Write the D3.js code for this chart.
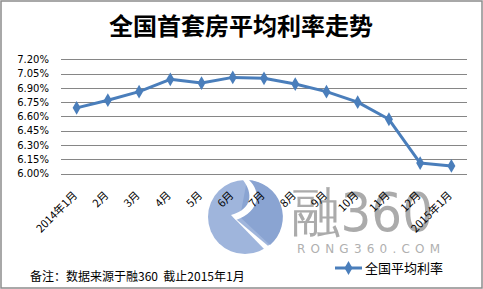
<!DOCTYPE html>
<html><head><meta charset="utf-8">
<script src="https://cdn.jsdelivr.net/npm/d3@7"></script>
<style>body{margin:0;background:#fff}svg{display:block}</style>
</head><body>
<script>
const title = "全国首套房平均利率走势";
const categories = ["2014年1月","2月","3月","4月","5月","6月","7月","8月","9月","10月","11月","12月","2015年1月"];
const rates = [6.69, 6.77, 6.86, 6.99, 6.95, 7.01, 7.00, 6.94, 6.86, 6.75, 6.57, 6.11, 6.08];
const yTicks = [6.00, 6.15, 6.30, 6.45, 6.60, 6.75, 6.90, 7.05, 7.20];
const seriesName = "全国平均利率";
const note = "备注：数据来源于融360\u00a0\u00a0截止2015年1月";

const W = 483, H = 289;
const svg = d3.select("body").append("svg").attr("width", W).attr("height", H);
const cjk = "'Noto Sans CJK SC','Microsoft YaHei',sans-serif";
const blue = "#4a7ebb";

svg.append("rect").attr("x",1).attr("y",1).attr("width",W-2).attr("height",H-2)
  .attr("fill","#fff").attr("stroke","#8c8c8c").attr("stroke-width",1.5);

// watermark
const wm = svg.append("g");
const cx = 245, cy = 217, r = 37;
wm.append("circle").attr("cx",cx).attr("cy",cy).attr("r",r).attr("fill","#9fb5dc");
wm.append("path").attr("d",`M${cx+2},${cy-r} A${r},${r} 0 0,1 ${cx+25},${cy+28} L${cx-5},${cy} Z`).attr("fill","#8aa4d2");
wm.append("path").attr("d",`M${cx-2},${cy-r} C${cx+8},${cy-24} ${cx+8},${cy-8} ${cx-14},${cy-2} L${cx-9},${cy+3} C${cx+16},${cy-6} ${cx+16},${cy-26} ${cx+4},${cy-r}Z`).attr("fill","#fff");
wm.append("path").attr("d",`M${cx-14},${cy-2} L${cx-8},${cy+3} L${cx+28},${cy+33} L${cx+22},${cy+35} Z`).attr("fill","#fff");
wm.append("text").attr("x",292).attr("y",231).attr("font-family","'DejaVu Sans',sans-serif").attr("font-size",54)
  .attr("fill","#ababab").attr("textLength",141).attr("lengthAdjust","spacingAndGlyphs").text("融360");
wm.append("text").attr("x",297).attr("y",253).attr("font-family","'DejaVu Sans',sans-serif").attr("font-size",12)
  .attr("fill","#b0b0b0").attr("textLength",143).text("RONG360.COM");

// title
svg.append("text").attr("x",241).attr("y",35).attr("text-anchor","middle")
  .attr("font-family",cjk).attr("font-weight","bold").attr("font-size",24).attr("fill","#000").text(title);

const x = d3.scalePoint().domain(categories).range([61,467]).padding(0.5);
const y = d3.scaleLinear().domain([6.00,7.20]).range([173.5,59.3]);

// gridlines
svg.append("g").selectAll("line").data(yTicks).join("line")
  .attr("x1",61).attr("x2",467).attr("y1",d=>Math.round(y(d))+0.5).attr("y2",d=>Math.round(y(d))+0.5)
  .attr("stroke","#868686").attr("stroke-width",1);

const yAxis = d3.axisLeft(y).tickValues(yTicks).tickSize(0).tickPadding(0).tickFormat(d=>d.toFixed(2)+"%");
const ya = svg.append("g").attr("transform","translate(49,0)").call(yAxis);
ya.select(".domain").remove();
ya.selectAll("text").attr("font-family","'DejaVu Sans',sans-serif").attr("font-size",10).attr("fill","#000");

const xAxis = d3.axisBottom(x).tickSize(0).tickPadding(0);
const xa = svg.append("g").attr("transform","translate(0,181)").call(xAxis);
xa.select(".domain").remove();
xa.selectAll("text").attr("font-family",cjk).attr("font-size",11).attr("fill","#000")
  .attr("text-anchor","end").attr("y",0).attr("dy",0).attr("dx",0)
  .attr("transform","translate(1,15) rotate(-45)");

// line
svg.append("path").datum(rates).attr("fill","none").attr("stroke",blue).attr("stroke-width",3)
  .attr("stroke-linejoin","round")
  .attr("d",d3.line().x((d,i)=>x(categories[i])).y(d=>y(d)));
const diamond = d3.symbol().type(d3.symbolDiamond).size(55);
svg.append("g").selectAll("path").data(rates).join("path")
  .attr("transform",(d,i)=>`translate(${x(categories[i])},${y(d)})`)
  .attr("d",diamond).attr("fill",blue);

// legend
svg.append("line").attr("x1",335).attr("x2",362).attr("y1",268).attr("y2",268).attr("stroke",blue).attr("stroke-width",3);
svg.append("path").attr("transform","translate(348.5,268)").attr("d",diamond).attr("fill",blue);
svg.append("text").attr("x",365).attr("y",273).attr("font-family",cjk).attr("font-size",13).attr("fill","#000").text(seriesName);

svg.append("text").attr("x",30).attr("y",281).attr("font-family",cjk).attr("font-size",12).attr("fill","#000").text(note);
</script>
</body></html>
